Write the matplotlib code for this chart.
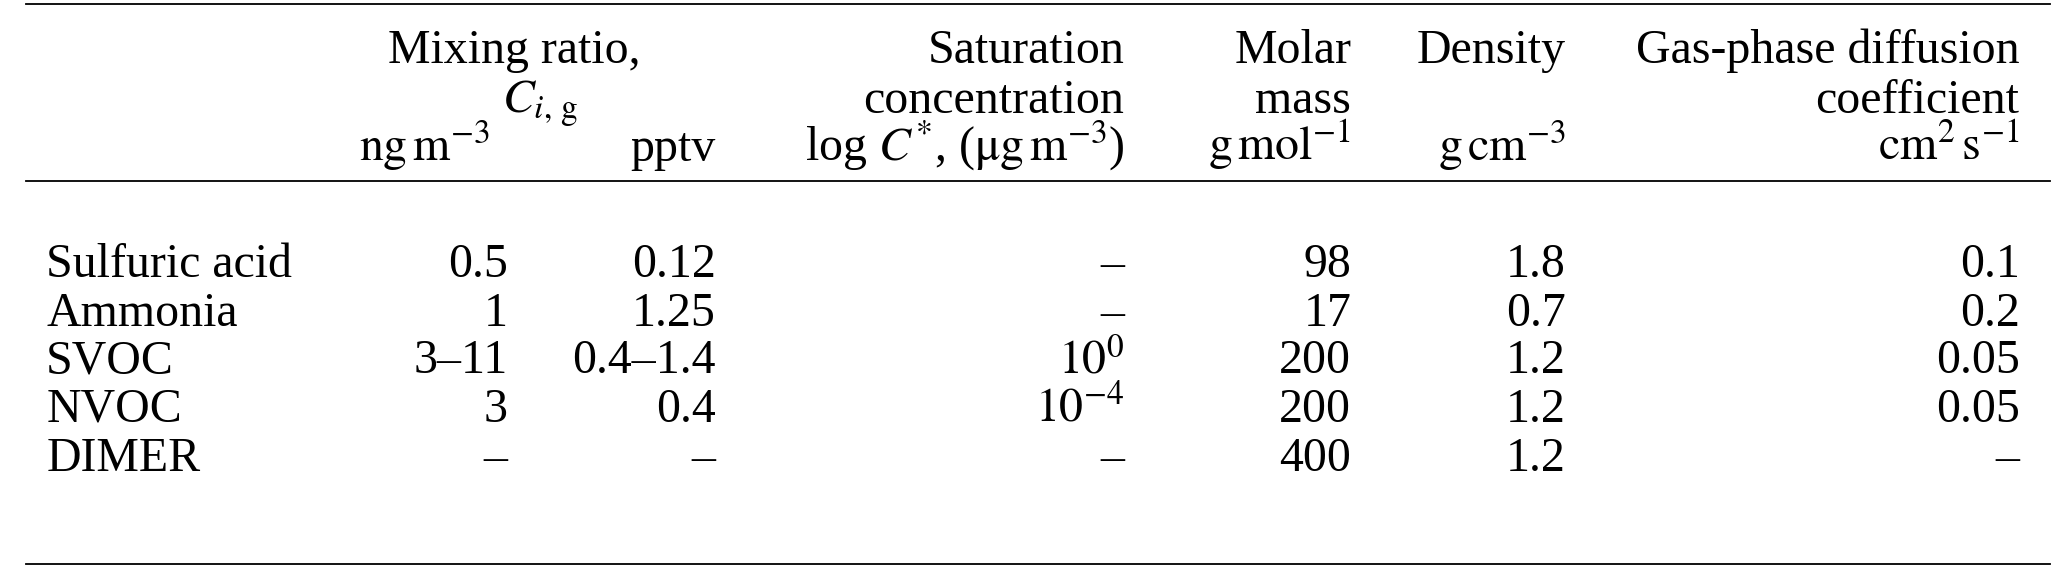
import matplotlib
matplotlib.use("Agg")
import matplotlib.pyplot as plt

plt.rcParams['font.family'] = ['Liberation Serif', 'DejaVu Serif']
plt.rcParams['mathtext.fontset'] = 'stix'

rows = ["Sulfuric acid", "Ammonia", "SVOC", "NVOC", "DIMER"]
ng = ["0.5", "1", "3–11", "3", "–"]
pptv = ["0.12", "1.25", "0.4–1.4", "0.4", "–"]
logc = ["–", "–", r"$10^{0}$", r"$10^{-4}$", "–"]
molar = ["98", "17", "200", "200", "400"]
density = ["1.8", "0.7", "1.2", "1.2", "1.2"]
diff = ["0.1", "0.2", "0.05", "0.05", "–"]

W, H = 1568, 430
fig = plt.figure(figsize=(20.67, 5.67), dpi=100)
fs = 34.5

def T(x, y, s, ha='right', va='baseline'):
    fig.text(x / W, 1 - y / H, s, ha=ha, va=va, fontsize=fs)

def rule(y):
    fig.add_artist(plt.Line2D([20 / W, 1555 / W], [1 - y / H] * 2, color='black', lw=1.3))

rule(3); rule(137); rule(428)

# header
T(390, 48, "Mixing ratio,", ha='center')
T(410, 86, r"$C_{i,\,\mathrm{g}}$", ha='center')
T(272, 122, r"$\mathrm{ng\,m^{-3}}$", ha='left')
T(543, 122, "pptv")
T(853, 48, "Saturation")
T(853, 86, "concentration")
T(853, 122, r"log $C^{*}$, ($\mathrm{\mu g\,m^{-3}}$)")
T(1025, 48, "Molar")
T(1025, 86, "mass")
T(1025, 122, r"$\mathrm{g\,mol^{-1}}$")
T(1188, 48, "Density")
T(1188, 122, r"$\mathrm{g\,cm^{-3}}$")
T(1532, 48, "Gas-phase diffusion")
T(1532, 86, "coefficient")
T(1532, 122, r"$\mathrm{cm^{2}\,s^{-1}}$")

ys = [210, 247, 283, 320, 357]
cols = [(385, ng), (543, pptv), (853, logc), (1025, molar), (1188, density), (1532, diff)]
for i, name in enumerate(rows):
    T(35, ys[i], name, ha='left')
    for x, vals in cols:
        T(x, ys[i], vals[i])

fig.savefig("out.png", dpi=100)
